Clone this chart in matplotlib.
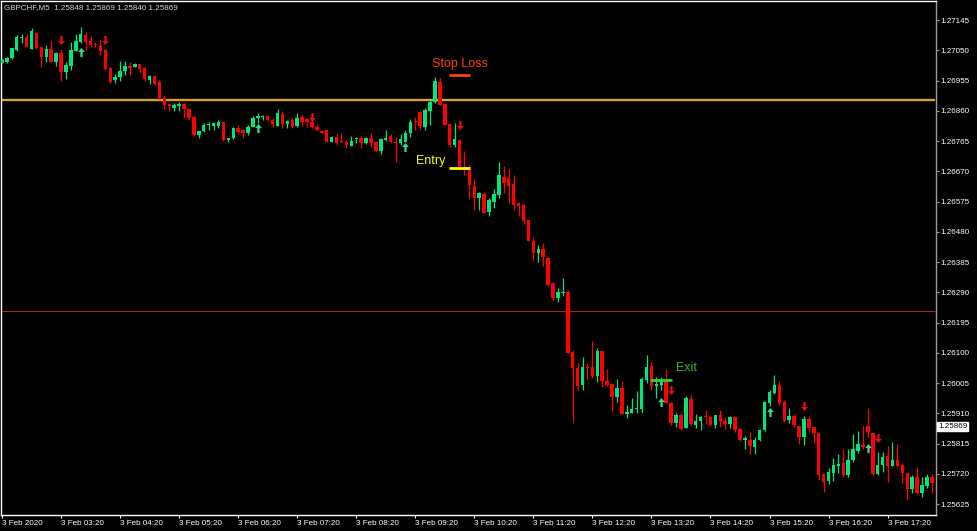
import matplotlib
matplotlib.use("Agg")
import matplotlib.pyplot as plt
from matplotlib.path import Path
from matplotlib.transforms import blended_transform_factory

# ---------------- data ----------------
header_text = "GBPCHF,M5  1.25848 1.25869 1.25840 1.25869"

opens = [
    1.27011, 1.27013, 1.27025, 1.27051, 1.27088, 1.27093, 1.27055, 1.27105, 1.27060, 1.27030,
    1.27055, 1.27014, 1.27040, 1.26983, 1.27001, 1.27049, 1.27076, 1.27098, 1.27079, 1.27067,
    1.27062, 1.27051, 1.26995, 1.26957, 1.26967, 1.26985, 1.27001, 1.26998, 1.27006, 1.26995,
    1.26957, 1.26970, 1.26951, 1.26899, 1.26881, 1.26869, 1.26875, 1.26882, 1.26866, 1.26841,
    1.26784, 1.26796, 1.26814, 1.26813, 1.26813, 1.26824, 1.26768, 1.26774, 1.26805, 1.26800,
    1.26789, 1.26810, 1.26838, 1.26840, 1.26845, 1.26831, 1.26813, 1.26850, 1.26817, 1.26831,
    1.26813, 1.26840, 1.26834, 1.26826, 1.26810, 1.26796, 1.26800, 1.26763, 1.26779, 1.26765,
    1.26763, 1.26749, 1.26770, 1.26775, 1.26758, 1.26775, 1.26763, 1.26734, 1.26768, 1.26781,
    1.26761, 1.26758, 1.26763, 1.26789, 1.26828, 1.26857, 1.26810, 1.26859, 1.26888, 1.26951,
    1.26881, 1.26818, 1.26753, 1.26768, 1.26683, 1.26677, 1.26624, 1.26585, 1.26599, 1.26543,
    1.26574, 1.26595, 1.26653, 1.26648, 1.26630, 1.26569, 1.26564, 1.26517, 1.26451, 1.26414,
    1.26426, 1.26397, 1.26320, 1.26271, 1.26289, 1.26292, 1.26103, 1.26051, 1.25999, 1.26056,
    1.26055, 1.26027, 1.26106, 1.26011, 1.26002, 1.25962, 1.25988, 1.25908, 1.25912, 1.25923,
    1.25923, 1.26015, 1.26059, 1.25996, 1.25999, 1.26015, 1.25943, 1.25879, 1.25905, 1.25865,
    1.25954, 1.25873, 1.25887, 1.25901, 1.25899, 1.25873, 1.25905, 1.25887, 1.25876, 1.25897,
    1.25860, 1.25826, 1.25826, 1.25805, 1.25826, 1.25858, 1.25941, 1.25973, 1.25999, 1.25946,
    1.25889, 1.25902, 1.25871, 1.25837, 1.25891, 1.25866, 1.25847, 1.25719, 1.25698, 1.25724,
    1.25745, 1.25753, 1.25716, 1.25764, 1.25793, 1.25811, 1.25871, 1.25847, 1.25719, 1.25748,
    1.25776, 1.25745, 1.25764, 1.25748, 1.25722, 1.25671, 1.25711, 1.25661, 1.25682, 1.25711,
]

highs = [
    1.27022, 1.27029, 1.27058, 1.27099, 1.27101, 1.27100, 1.27120, 1.27108, 1.27061, 1.27066,
    1.27079, 1.27044, 1.27054, 1.27014, 1.27077, 1.27101, 1.27123, 1.27106, 1.27095, 1.27076,
    1.27084, 1.27054, 1.26997, 1.26975, 1.27016, 1.27016, 1.27014, 1.27010, 1.27007, 1.26996,
    1.26972, 1.26972, 1.26956, 1.26909, 1.26882, 1.26885, 1.26886, 1.26883, 1.26867, 1.26844,
    1.26797, 1.26821, 1.26826, 1.26826, 1.26831, 1.26825, 1.26775, 1.26808, 1.26815, 1.26803,
    1.26815, 1.26844, 1.26852, 1.26847, 1.26847, 1.26837, 1.26866, 1.26859, 1.26831, 1.26836,
    1.26852, 1.26847, 1.26838, 1.26837, 1.26817, 1.26797, 1.26801, 1.26781, 1.26786, 1.26789,
    1.26768, 1.26781, 1.26779, 1.26782, 1.26777, 1.26791, 1.26765, 1.26773, 1.26800, 1.26787,
    1.26779, 1.26786, 1.26800, 1.26834, 1.26841, 1.26860, 1.26869, 1.26894, 1.26967, 1.26962,
    1.26882, 1.26819, 1.26821, 1.26769, 1.26735, 1.26690, 1.26645, 1.26606, 1.26606, 1.26585,
    1.26613, 1.26700, 1.26687, 1.26676, 1.26658, 1.26574, 1.26567, 1.26518, 1.26465, 1.26438,
    1.26444, 1.26400, 1.26323, 1.26303, 1.26334, 1.26297, 1.26109, 1.26067, 1.26088, 1.26067,
    1.26138, 1.26114, 1.26109, 1.26049, 1.26004, 1.26017, 1.26011, 1.25936, 1.25957, 1.25981,
    1.26023, 1.26093, 1.26072, 1.26023, 1.26025, 1.26048, 1.25945, 1.25912, 1.25912, 1.25964,
    1.25967, 1.25908, 1.25900, 1.25920, 1.25906, 1.25906, 1.25920, 1.25897, 1.25903, 1.25901,
    1.25864, 1.25838, 1.25852, 1.25837, 1.25861, 1.25949, 1.25984, 1.26030, 1.26011, 1.25952,
    1.25926, 1.25908, 1.25873, 1.25902, 1.25902, 1.25867, 1.25848, 1.25720, 1.25737, 1.25769,
    1.25782, 1.25797, 1.25797, 1.25845, 1.25855, 1.25870, 1.25928, 1.25849, 1.25790, 1.25790,
    1.25807, 1.25821, 1.25814, 1.25755, 1.25726, 1.25716, 1.25740, 1.25711, 1.25719, 1.25719,
]

lows = [
    1.27009, 1.27011, 1.27024, 1.27049, 1.27074, 1.27060, 1.27053, 1.27053, 1.26998, 1.27013,
    1.27012, 1.27001, 1.26953, 1.26960, 1.26988, 1.27047, 1.27073, 1.27051, 1.27061, 1.27060,
    1.27035, 1.26989, 1.26948, 1.26946, 1.26953, 1.26972, 1.26972, 1.26996, 1.26978, 1.26953,
    1.26943, 1.26941, 1.26897, 1.26865, 1.26860, 1.26859, 1.26860, 1.26838, 1.26831, 1.26781,
    1.26774, 1.26794, 1.26800, 1.26800, 1.26805, 1.26765, 1.26763, 1.26771, 1.26786, 1.26774,
    1.26784, 1.26808, 1.26821, 1.26831, 1.26828, 1.26810, 1.26812, 1.26805, 1.26807, 1.26805,
    1.26810, 1.26813, 1.26810, 1.26806, 1.26796, 1.26789, 1.26762, 1.26762, 1.26753, 1.26761,
    1.26742, 1.26748, 1.26760, 1.26742, 1.26756, 1.26747, 1.26733, 1.26724, 1.26765, 1.26759,
    1.26700, 1.26753, 1.26762, 1.26779, 1.26800, 1.26800, 1.26800, 1.26815, 1.26884, 1.26877,
    1.26814, 1.26746, 1.26747, 1.26674, 1.26658, 1.26582, 1.26548, 1.26548, 1.26539, 1.26530,
    1.26554, 1.26586, 1.26601, 1.26569, 1.26548, 1.26530, 1.26504, 1.26451, 1.26391, 1.26386,
    1.26373, 1.26310, 1.26266, 1.26261, 1.26278, 1.26099, 1.25880, 1.25983, 1.25983, 1.26015,
    1.26020, 1.26009, 1.25994, 1.25996, 1.25918, 1.25946, 1.25907, 1.25895, 1.25910, 1.25910,
    1.25912, 1.26004, 1.25983, 1.25958, 1.25983, 1.25941, 1.25873, 1.25868, 1.25858, 1.25864,
    1.25873, 1.25864, 1.25858, 1.25876, 1.25870, 1.25864, 1.25868, 1.25860, 1.25864, 1.25851,
    1.25823, 1.25797, 1.25782, 1.25782, 1.25823, 1.25856, 1.25933, 1.25971, 1.25936, 1.25884,
    1.25879, 1.25868, 1.25814, 1.25811, 1.25852, 1.25817, 1.25701, 1.25664, 1.25688, 1.25698,
    1.25722, 1.25709, 1.25711, 1.25758, 1.25786, 1.25797, 1.25837, 1.25716, 1.25716, 1.25727,
    1.25695, 1.25743, 1.25741, 1.25692, 1.25638, 1.25661, 1.25657, 1.25646, 1.25675, 1.25659,
]

closes = [
    1.27019, 1.27026, 1.27056, 1.27091, 1.27091, 1.27061, 1.27110, 1.27057, 1.27030, 1.27055,
    1.27014, 1.27040, 1.26983, 1.27005, 1.27051, 1.27080, 1.27100, 1.27076, 1.27066, 1.27066,
    1.27048, 1.26990, 1.26951, 1.26967, 1.26986, 1.27001, 1.26995, 1.27007, 1.26991, 1.26959,
    1.26969, 1.26944, 1.26899, 1.26878, 1.26875, 1.26879, 1.26882, 1.26866, 1.26838, 1.26784,
    1.26796, 1.26815, 1.26815, 1.26821, 1.26824, 1.26768, 1.26775, 1.26805, 1.26794, 1.26789,
    1.26810, 1.26838, 1.26844, 1.26844, 1.26831, 1.26817, 1.26854, 1.26817, 1.26828, 1.26810,
    1.26838, 1.26826, 1.26825, 1.26810, 1.26800, 1.26791, 1.26763, 1.26779, 1.26758, 1.26763,
    1.26753, 1.26765, 1.26774, 1.26758, 1.26775, 1.26758, 1.26734, 1.26771, 1.26775, 1.26761,
    1.26760, 1.26771, 1.26791, 1.26826, 1.26825, 1.26812, 1.26862, 1.26888, 1.26953, 1.26878,
    1.26815, 1.26753, 1.26770, 1.26679, 1.26677, 1.26627, 1.26585, 1.26601, 1.26540, 1.26580,
    1.26599, 1.26658, 1.26634, 1.26624, 1.26564, 1.26561, 1.26515, 1.26452, 1.26414, 1.26426,
    1.26400, 1.26313, 1.26271, 1.26292, 1.26290, 1.26100, 1.26051, 1.25996, 1.26055, 1.26052,
    1.26027, 1.26106, 1.26011, 1.25999, 1.25962, 1.25988, 1.25908, 1.25913, 1.25924, 1.25927,
    1.26018, 1.26055, 1.25996, 1.26002, 1.26017, 1.25943, 1.25879, 1.25905, 1.25860, 1.25957,
    1.25875, 1.25887, 1.25899, 1.25898, 1.25873, 1.25905, 1.25887, 1.25876, 1.25899, 1.25858,
    1.25826, 1.25833, 1.25807, 1.25826, 1.25858, 1.25946, 1.25976, 1.25999, 1.25941, 1.25887,
    1.25902, 1.25873, 1.25835, 1.25891, 1.25863, 1.25847, 1.25716, 1.25695, 1.25727, 1.25748,
    1.25751, 1.25716, 1.25764, 1.25797, 1.25814, 1.25803, 1.25852, 1.25719, 1.25748, 1.25774,
    1.25745, 1.25764, 1.25745, 1.25722, 1.25671, 1.25709, 1.25659, 1.25685, 1.25711, 1.25692,
]

time_labels = ["3 Feb 2020", "3 Feb 03:20", "3 Feb 04:20", "3 Feb 05:20", "3 Feb 06:20",
               "3 Feb 07:20", "3 Feb 08:20", "3 Feb 09:20", "3 Feb 10:20", "3 Feb 11:20",
               "3 Feb 12:20", "3 Feb 13:20", "3 Feb 14:20", "3 Feb 15:20", "3 Feb 16:20",
               "3 Feb 17:20"]
bars_per_label = 12

price_ticks = [1.27145, 1.27050, 1.26955, 1.26860, 1.26765, 1.26670, 1.26575, 1.26480,
               1.26385, 1.26290, 1.26195, 1.26100, 1.26005, 1.25910, 1.25815, 1.25720, 1.25625]

resistance_level = 1.26894
support_level = 1.26230
stop_loss_level = 1.26971
entry_level = 1.26680
exit_level = 1.26015
current_price = 1.25869

buy_arrow_bars = [16, 52, 82, 134, 156, 176]
buy_arrow_prices = [1.27045, 1.26805, 1.26746, 1.25947, 1.25913, 1.25800]
sell_arrow_bars = [12, 21, 63, 93, 136, 163, 178]
sell_arrow_prices = [1.27082, 1.27083, 1.26840, 1.26814, 1.25983, 1.25933, 1.25831]

# ---------------- styling ----------------
BULL = "#00E67A"
BEAR = "#FF0000"
FG = "#FFFFFF"
TICK_FONT = "Liberation Sans"

W, H = 977, 531
fig = plt.figure(figsize=(W / 100, H / 100), dpi=100, facecolor="black")
ax = fig.add_axes([1 / W, 16 / H, 934.5 / W, 514 / H])
ax.set_facecolor("black")

n = len(opens)
xs = list(range(n))
ax.set_xlim(-0.2, 189.74)
ax.set_ylim(1.255907, 1.272047)

# horizontal levels
ax.hlines(resistance_level, -0.2, 189.6, color="#D9A02A", lw=1.7, zorder=1)
ax.hlines(support_level, -0.2, 189.6, color="#B02020", lw=0.8, zorder=1)

# candles
colors = [BULL if c >= o else BEAR for o, c in zip(opens, closes)]
ax.vlines(xs, lows, highs, colors=colors, lw=0.9, zorder=2)
bottoms = [min(o, c) for o, c in zip(opens, closes)]
heights = [max(abs(c - o), 0.00003) for o, c in zip(opens, closes)]
ax.bar(xs, heights, bottom=bottoms, width=0.7, color=colors, linewidth=0, zorder=3)

# signal arrows
up_path = Path([(0, 1), (-0.75, 0.1), (-0.25, 0.1), (-0.25, -1), (0.25, -1),
                (0.25, 0.1), (0.75, 0.1), (0, 1)],
               [Path.MOVETO] + [Path.LINETO] * 6 + [Path.CLOSEPOLY])
down_path = Path([(x, -y) for x, y in up_path.vertices], up_path.codes)
ax.plot(buy_arrow_bars, buy_arrow_prices, linestyle="none", marker=up_path,
        markersize=6.5, color="#3CD890", markeredgewidth=0, zorder=4)
ax.plot(sell_arrow_bars, sell_arrow_prices, linestyle="none", marker=down_path,
        markersize=6.5, color="#E01010", markeredgewidth=0, zorder=4)

# trade marks
ax.hlines(stop_loss_level, 90.9, 95.1, color="#FF4500", lw=2.0, zorder=5)
ax.hlines(entry_level, 90.9, 95.1, color="#FFFF00", lw=2.0, zorder=5)
ax.hlines(exit_level, 131.8, 136.1, color="#32CD32", lw=2.0, zorder=5)
ax.text(87.4, 1.27007, "Stop Loss", color="#FF4500", fontsize=9,
        family="Liberation Sans", ha="left", va="center", zorder=6)
ax.text(84.1, 1.26702, "Entry", color="#FFFF00", fontsize=9,
        family="Liberation Sans", ha="left", va="center", zorder=6)
ax.text(137.0, 1.26052, "Exit", color="#2EB82E", fontsize=9,
        family="Liberation Sans", ha="left", va="center", zorder=6)

# axes / ticks
for side in ["left", "top", "bottom"]:
    ax.spines[side].set_color(FG)
    ax.spines[side].set_linewidth(1.0)
ax.spines["right"].set_color("#9A9A9A")
ax.spines["right"].set_linewidth(1.0)

ax.yaxis.tick_right()
ax.set_yticks(price_ticks)
ax.set_yticklabels([f"{p:.5f}" for p in price_ticks], family=TICK_FONT)
ax.tick_params(axis="y", colors="#9A9A9A", labelcolor=FG, labelsize=5.8,
               length=2.2, width=0.8, pad=1.5)

tick_bars = [i * bars_per_label for i in range(len(time_labels))]
ax.set_xticks(tick_bars)
ax.set_xticklabels(time_labels, family=TICK_FONT, ha="left")
ax.tick_params(axis="x", colors=FG, labelcolor=FG, labelsize=5.8,
               length=2.5, width=0.8, pad=1.2)

# current price marker on the price axis
trans = blended_transform_factory(ax.transAxes, ax.transData)
ax.text(1.0 + 2.5 / 934.5, current_price, f"{current_price:.5f}", transform=trans,
        ha="left", va="center", color="black", fontsize=5.8, family=TICK_FONT,
        bbox=dict(boxstyle="square,pad=0.15", fc="white", ec="white"),
        clip_on=False, zorder=7)

# header
fig.text(4 / W, 1 - 7.5 / H, header_text, color="#D8D8D8", fontsize=5.8,
         family=TICK_FONT, ha="left", va="center")

fig.savefig("out.png", dpi=100, facecolor="black")
